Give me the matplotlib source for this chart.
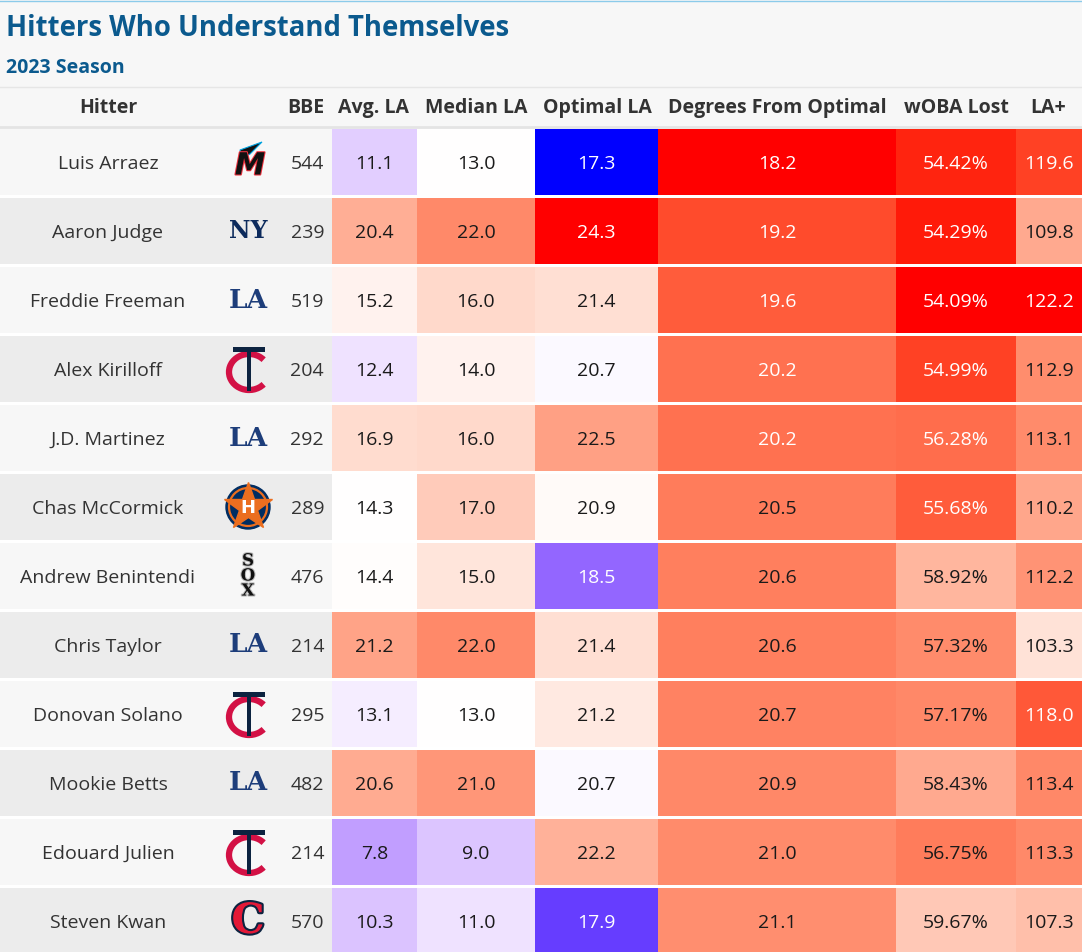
import numpy as np
import matplotlib
matplotlib.use("Agg")
import matplotlib.pyplot as plt
import matplotlib.colors as mcolors
import matplotlib.patheffects as pe
from matplotlib.patches import Rectangle, Arc, Circle

# ---- data ----
hitters = ["Luis Arraez", "Aaron Judge", "Freddie Freeman", "Alex Kirilloff",
           "J.D. Martinez", "Chas McCormick", "Andrew Benintendi", "Chris Taylor",
           "Donovan Solano", "Mookie Betts", "Edouard Julien", "Steven Kwan"]
teams = ["MIA", "NYY", "LAD", "MIN", "LAD", "HOU", "CWS", "LAD", "MIN", "LAD", "MIN", "CLE"]
bbe = [544, 239, 519, 204, 292, 289, 476, 214, 295, 482, 214, 570]
avg_la = [11.1, 20.4, 15.2, 12.4, 16.9, 14.3, 14.4, 21.2, 13.1, 20.6, 7.8, 10.3]
median_la = [13.0, 22.0, 16.0, 14.0, 16.0, 17.0, 15.0, 22.0, 13.0, 21.0, 9.0, 11.0]
optimal_la = [17.3, 24.3, 21.4, 20.7, 22.5, 20.9, 18.5, 21.4, 21.2, 20.7, 22.2, 17.9]
deg_from_opt = [18.2, 19.2, 19.6, 20.2, 20.2, 20.5, 20.6, 20.6, 20.7, 20.9, 21.0, 21.1]
woba_lost = [54.42, 54.29, 54.09, 54.99, 56.28, 55.68, 58.92, 57.32, 57.17, 58.43, 56.75, 59.67]
la_plus = [119.6, 109.8, 122.2, 112.9, 113.1, 110.2, 112.2, 103.3, 118.0, 113.4, 113.3, 107.3]

headers = ["Hitter", "BBE", "Avg. LA", "Median LA", "Optimal LA",
           "Degrees From Optimal", "wOBA Lost", "LA+"]


# ---- blue-white-red scale interpolated in Lab ----
M = np.array([[0.4124, 0.3576, 0.1805], [0.2126, 0.7152, 0.0722], [0.0193, 0.1192, 0.9505]])
WHITE_XYZ = np.array([0.95047, 1.0, 1.08883])


def to_lab(c):
    rgb = np.array(mcolors.to_rgb(c))
    lin = np.where(rgb <= 0.04045, rgb / 12.92, ((rgb + 0.055) / 1.055) ** 2.4)
    xyz = M @ lin / WHITE_XYZ
    f = np.where(xyz > 0.008856, np.cbrt(xyz), 7.787 * xyz + 16 / 116)
    return np.array([116 * f[1] - 16, 500 * (f[0] - f[1]), 200 * (f[1] - f[2])])


def from_lab(lab):
    fy = (lab[0] + 16) / 116
    f = np.array([fy + lab[1] / 500, fy, fy - lab[2] / 200])
    xyz = np.where(f > 0.2069, f ** 3, (f - 16 / 116) / 7.787) * WHITE_XYZ
    lin = np.clip(np.linalg.inv(M) @ xyz, 0, 1)
    rgb = np.where(lin <= 0.0031308, 12.92 * lin, 1.055 * lin ** (1 / 2.4) - 0.055)
    return np.clip(rgb, 0, 1)


blue, white, red = to_lab("#0000ff"), to_lab("#ffffff"), to_lab("#ff0000")
samples = []
for t in np.linspace(0, 1, 256):
    if t < 0.5:
        s = t / 0.5
        samples.append(from_lab(blue + (white - blue) * s))
    else:
        s = (t - 0.5) / 0.5
        samples.append(from_lab(white + (red - white) * s))
cmap = mcolors.ListedColormap(samples)
cmap_r = cmap.reversed()

# column -> (values, format, cmap, norm)
color_cols = [
    (avg_la, "{:.1f}", cmap, mcolors.TwoSlopeNorm(14.2, -1, 29)),
    (median_la, "{:.1f}", cmap, mcolors.TwoSlopeNorm(13.0, -3, 28)),
    (optimal_la, "{:.1f}", cmap, mcolors.TwoSlopeNorm(20.8, 17.3, 24.3)),
    (deg_from_opt, "{:.1f}", cmap_r, mcolors.TwoSlopeNorm(25.0, 18.2, 32)),
    (woba_lost, "{:.2f}%", cmap_r, mcolors.TwoSlopeNorm(61.9, 54.09, 70)),
    (la_plus, "{:.1f}", cmap, mcolors.TwoSlopeNorm(100, 78, 122.2)),
]
col_edges = [332, 417, 535, 658, 896, 1016, 1082]


def luminance(rgb):
    rgb = np.array(rgb)
    lin = np.where(rgb <= 0.04045, rgb / 12.92, ((rgb + 0.055) / 1.055) ** 2.4)
    return 0.2126 * lin[0] + 0.7152 * lin[1] + 0.0722 * lin[2]


# ---- logos (rough drawings) ----
NAVY = "#0c2a5c"


def draw_logo(ax, team, cx, cy):
    if team == "LAD":
        ax.text(cx, cy, "LA", fontfamily="DejaVu Serif", fontweight="bold",
                fontsize=19, color="#1d3d7a", ha="center", va="center")
    elif team == "NYY":
        ax.text(cx, cy, "NY", fontfamily="DejaVu Serif", fontweight="bold",
                fontsize=17, color=NAVY, ha="center", va="center")
    elif team == "MIN":
        ax.add_patch(Arc((cx + 1, cy + 3), 40, 36, theta1=40, theta2=320,
                         lw=4.5, color="#d31145"))
        ax.add_patch(Rectangle((cx - 15, cy - 22), 32, 5, color="#0c2340", lw=0))
        ax.add_patch(Rectangle((cx - 1.5, cy - 22), 4.5, 44, color="#0c2340", lw=0))
    elif team == "HOU":
        ax.add_patch(Circle((cx, cy), 22, color="#002d62"))
        ax.add_patch(Circle((cx, cy), 19, fill=False, ec="#eb6e1f", lw=1.6))
        ax.plot(cx, cy, marker="*", ms=36, color="#eb6e1f", mec="#eb6e1f")
        ax.text(cx, cy + 1, "H", fontfamily="DejaVu Sans", fontweight="bold",
                fontsize=13, color="white", ha="center", va="center")
    elif team == "CWS":
        ax.text(cx, cy, "S\nO\nX", fontfamily="DejaVu Serif", fontweight="bold",
                fontsize=12, color="#111", ha="center", va="center", linespacing=0.85,
                path_effects=[pe.withStroke(linewidth=1.5, foreground="#bbbbbb")])
    elif team == "CLE":
        ax.text(cx, cy, "C", fontfamily="DejaVu Serif", fontweight="bold",
                fontsize=30, color="#e31937", ha="center", va="center",
                path_effects=[pe.withStroke(linewidth=3, foreground="#0c2340")])
    elif team == "MIA":
        ax.text(cx + 2, cy + 4, "M", fontfamily="DejaVu Sans", fontweight="bold",
                fontstyle="italic", fontsize=22, color="#111", ha="center", va="center",
                path_effects=[pe.withStroke(linewidth=1.5, foreground="#ef3340")])
        ax.fill([cx - 8, cx + 14, cx + 2, cx - 6], [cy - 12, cy - 20, cy - 8, cy - 4],
                color="#111", ec="#00a3e0", lw=0.8)


# ---- figure ----
plt.rcParams["font.family"] = ["Open Sans", "DejaVu Sans"]
fig = plt.figure(figsize=(10.82, 9.52), dpi=100, facecolor="#f7f7f7")
ax = fig.add_axes([0, 0, 1, 1])
ax.set_xlim(0, 1082)
ax.set_ylim(952, 0)
ax.axis("off")

ax.plot([0, 1082], [0.5, 0.5], color="#8ccbea", lw=1)
ax.text(6, 29, "Hitters Who Understand Themselves", fontsize=19.8, fontweight="bold",
        color="#0b5a8e", ha="left", va="center")
ax.text(6, 68, "2023 Season", fontsize=14, fontweight="bold",
        color="#0b5a8e", ha="left", va="center")
ax.plot([0, 1082], [87, 87], color="#e6e6e6", lw=1)
ax.plot([0, 1082], [127, 127], color="#e4e4e4", lw=2)

header_x = [108, 306, 374, 476, 597, 777, 956, 1048]
for hx, h in zip(header_x, headers):
    ax.text(hx, 108, h, fontsize=14, fontweight="bold", color="#333333",
            ha="center", va="center")

row_top0, row_pitch, cell_h = 129, 69, 66
for i, name in enumerate(hitters):
    top = row_top0 + row_pitch * i
    cy = top + cell_h / 2
    ty = cy + 2
    bg = "#f7f7f7" if i % 2 == 0 else "#ececec"
    ax.add_patch(Rectangle((0, top), 332, cell_h, color=bg, lw=0))
    ax.add_patch(Rectangle((0, top + cell_h), 1082, row_pitch - cell_h, color="white", lw=0))
    ax.text(108, ty, name, fontsize=14, color="#333333", ha="center", va="center")
    draw_logo(ax, teams[i], 248, cy)
    ax.text(324, ty, str(bbe[i]), fontsize=14, color="#333333", ha="right", va="center")
    for j, (vals, fmt, cm, norm) in enumerate(color_cols):
        x0, x1 = col_edges[j], col_edges[j + 1]
        rgb = cm(norm(vals[i]))[:3]
        ax.add_patch(Rectangle((x0, top), x1 - x0, cell_h, color=rgb, lw=0))
        tc = "white" if luminance(rgb) < 0.35 else "#1a1a1a"
        ax.text((x0 + x1) / 2, ty, fmt.format(vals[i]), fontsize=14, color=tc,
                ha="center", va="center")

fig.savefig("out.png", dpi=100, facecolor=fig.get_facecolor())
